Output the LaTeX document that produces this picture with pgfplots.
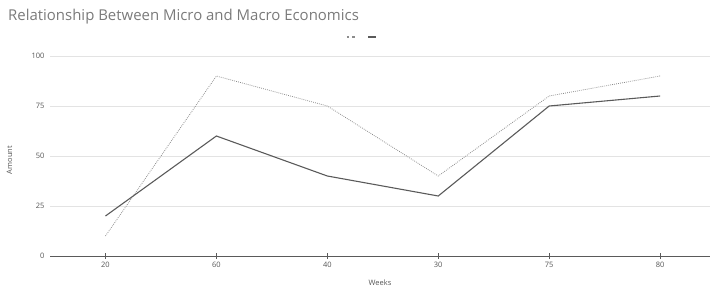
\documentclass[border=0pt]{standalone}
\usepackage{pgfplots}
\pgfplotsset{compat=1.18}
\usepackage{fontspec}
\setmainfont{Open Sans}
\definecolor{titlegrey}{HTML}{7A7A7A}
\definecolor{textgrey}{HTML}{555555}
\definecolor{gridgrey}{HTML}{E3E3E3}
\definecolor{dotgrey}{HTML}{8C8C8C}
\definecolor{linegrey}{HTML}{5A5A5A}
\begin{document}
\begin{tikzpicture}[x=1bp,y=1bp]
\path[use as bounding box] (0,0) rectangle (713,301);
\node[anchor=base west, font=\fontsize{15}{17}\selectfont, text=titlegrey, inner sep=0] at (8,281) {Relationship Between Micro and Macro Economics};
\begin{axis}[
  at={(50bp,45bp)}, anchor=south west,
  width=660bp, height=200bp, scale only axis,
  xmin=-0.5, xmax=5.45, ymin=0, ymax=100,
  xtick={0,1,2,3,4,5},
  xticklabels={20,60,40,30,75,80},
  ytick={0,25,50,75,100},
  axis x line*=bottom, axis y line*=left,
  x axis line style={draw=linegrey, line width=0.8pt, -},
  y axis line style={draw=none},
  xtick style={draw=linegrey, line width=0.6pt},
  xtick align=center,
  major tick length=6bp,
  ymajorgrids, grid style={gridgrey, line width=0.7pt},
  ytick style={draw=none},
  tick label style={font=\fontsize{7.5}{9}\selectfont, text=textgrey},
  yticklabel style={xshift=-2bp},
  /pgf/number format/assume math mode=true,
  xlabel={Weeks}, ylabel={Amount},
  label style={font=\fontsize{7.5}{9}\selectfont, text=textgrey},
  xlabel style={at={(axis description cs:0.5,0)}, anchor=north, yshift=-20bp},
  ylabel style={at={(axis description cs:-0.052,0.48)}, anchor=south, rotate=0},
  legend columns=2,
  legend style={at={(0.475,1.095)}, anchor=center, draw=none, fill=none, font=\fontsize{1}{1}\selectfont, /tikz/every even column/.append style={column sep=6bp}},
  clip=false,
]
\addplot[dotgrey, line width=0.8pt, dash pattern=on 0.8pt off 1.2pt,
  legend image code/.code={\draw[dotgrey, line width=2.6pt, dash pattern=on 2.6pt off 3pt] (0,0) -- (8.5bp,0);}] coordinates {(0,10) (1,90) (2,75) (3,40) (4,80) (5,90)};
\addlegendentry{}
\addplot[linegrey, line width=1.1pt,
  legend image code/.code={\draw[linegrey, line width=2.8pt] (0,0) -- (8bp,0);}] coordinates {(0,20) (1,60) (2,40) (3,30) (4,75) (5,80)};
\addlegendentry{}
\end{axis}
\end{tikzpicture}
\end{document}
